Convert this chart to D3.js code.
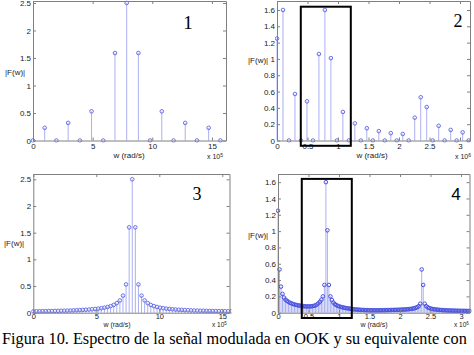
<!DOCTYPE html>
<html><head><meta charset="utf-8">
<script src="https://cdn.jsdelivr.net/npm/d3@7"></script>
<style>
html,body{margin:0;padding:0;background:#fff;}
svg{display:block;}
</style></head><body>
<svg id="c" width="474" height="355"></svg>
<script>
// ---------- DATA ----------
// Panel 1: |F(w)| per harmonic bin (bin spacing in units of 1e5 rad/s)
const p1Step = 0.9817;
const p1Values = [0, 0.23, 0, 0.32, 0, 0.53, 0, 1.59, 2.5, 1.59, 0, 0.53, 0, 0.32, 0, 0.23, 0];
const p1XTicks = [0, 5, 10, 15];
const p1YTicks = [0, 0.5, 1, 1.5, 2, 2.5];

// Panel 2: bins in units of 1e6 rad/s
const p2Step = 0.09817;
const p2Values = [1.25, 1.6, 0, 0.57, 0, 0.48, 0, 1.06, 1.6, 1.01, 0, 0.35, 0, 0.21, 0, 0.15, 0,
  0.115, 0, 0.09, 0, 0.08, 0, 0.28, 0.53, 0.41, 0, 0.18, 0, 0.13, 0, 0.10, 0];
const p2XTicks = [0, 0.5, 1, 1.5, 2, 2.5, 3];
const p2YTicks = [0, 0.2, 0.4, 0.6, 0.8, 1, 1.2, 1.4, 1.6];

// Panel 3: bins in units of 1e5 rad/s
const p3Step = 0.2454;
const p3Values = [0.025, 0.026, 0.027, 0.028, 0.029, 0.030, 0.031, 0.033, 0.034, 0.036, 0.037, 0.039,
  0.041, 0.043, 0.046, 0.048, 0.052, 0.055, 0.059, 0.064, 0.070, 0.076, 0.084, 0.094, 0.107, 0.123,
  0.145, 0.18, 0.23, 0.32, 0.53, 1.6,
  2.5,
  1.6, 0.53, 0.32, 0.23, 0.18, 0.145, 0.123, 0.107, 0.094, 0.084, 0.076, 0.070, 0.064, 0.059, 0.055,
  0.052, 0.048, 0.046, 0.043, 0.041, 0.039, 0.037, 0.036, 0.034, 0.033, 0.031, 0.030, 0.029, 0.028,
  0.027, 0.026, 0.025];
const p3XTicks = [0, 5, 10, 15];
const p3YTicks = [0, 0.5, 1, 1.5, 2, 2.5];

// Panel 4: bins in units of 1e6 rad/s
const p4Step = 0.024544;
const p4Values = [
  1.25, 0.53, 0.32, 0.23, 0.185, 0.16, 0.145, 0.133, 0.122, 0.114,
  0.107, 0.101, 0.096, 0.092, 0.088, 0.085, 0.082, 0.08, 0.078, 0.077,
  0.077, 0.077, 0.078, 0.08, 0.084, 0.09, 0.1, 0.115, 0.135, 0.16,
  0.2, 0.34, 1.6, 1.01, 0.34, 0.2, 0.155, 0.125, 0.105, 0.093,
  0.084, 0.077, 0.071, 0.066, 0.062, 0.058, 0.055, 0.052, 0.049, 0.047,
  0.043, 0.041, 0.039, 0.038, 0.037, 0.035, 0.034, 0.033, 0.032, 0.031,
  0.031, 0.03, 0.03, 0.029, 0.029, 0.029, 0.029, 0.029, 0.03, 0.03,
  0.03, 0.031, 0.031, 0.032, 0.032, 0.033, 0.033, 0.034, 0.034, 0.035,
  0.035, 0.036, 0.037, 0.038, 0.039, 0.04, 0.041, 0.043, 0.045, 0.047,
  0.05, 0.054, 0.06, 0.068, 0.08, 0.11, 0.53, 0.34, 0.11, 0.08,
  0.066, 0.057, 0.051, 0.046, 0.043, 0.04, 0.038, 0.036, 0.034, 0.033,
  0.031, 0.03, 0.029, 0.028, 0.027, 0.027, 0.026, 0.025, 0.025, 0.024,
  0.024, 0.023, 0.023, 0.022, 0.022, 0.022, 0.021, 0.021, 0.021];
const p4XTicks = [0, 0.5, 1, 1.5, 2, 2.5, 3];
const p4YTicks = [0, 0.2, 0.4, 0.6, 0.8, 1, 1.2, 1.4, 1.6];

// Highlight box (w range, |F| range)
const boxW = [0.39, 1.21];
const boxF = [-0.065, 1.64];

const panelNames = ["1", "2", "3", "4"];
const yLabel = "|F(w)|";
const xLabel = "w (rad/s)";
const caption = "Figura 10. Espectro de la señal modulada en OOK y su equivalente con";

// ---------- DRAW ----------
const svg = d3.select('#c');
const stemColor = '#abb0f2';
const markColor = '#6a71e6';
const frameColor = '#808080';
const sans = 'Liberation Sans, Arial, sans-serif';
const serif = 'Liberation Serif, Times New Roman, serif';

function panel(o) {
  const g = svg.append('g');
  const x = d3.scaleLinear().domain([0, o.xmax]).range([o.L, o.R]);
  const y = d3.scaleLinear().domain([0, o.ymax]).range([o.B, o.T]);
  const cid = 'clip' + o.name;
  svg.append('clipPath').attr('id', cid).append('rect')
    .attr('x', o.L - 2).attr('y', o.T - 2).attr('width', o.R - o.L + 4).attr('height', o.B - o.T + 4);
  const data = o.values.map((v, i) => ({ w: i * o.step, f: v }));
  const pg = g.append('g').attr('clip-path', `url(#${cid})`);
  pg.selectAll('line.stem').data(data).join('line').attr('class', 'stem')
    .attr('x1', d => x(d.w)).attr('x2', d => x(d.w))
    .attr('y1', y(0)).attr('y2', d => y(d.f))
    .attr('stroke', stemColor).attr('stroke-width', 1);
  pg.selectAll('circle').data(data).join('circle')
    .attr('cx', d => x(d.w)).attr('cy', d => y(d.f)).attr('r', o.r)
    .attr('fill', 'none').attr('stroke', o.mark || markColor).attr('stroke-width', 1);

  const fmt = d => String(d);
  const style = (sel, fs) => {
    sel.attr('font-size', fs).attr('font-family', sans);
    sel.select('.domain').attr('stroke', frameColor);
    sel.selectAll('.tick line').attr('stroke', frameColor);
    sel.selectAll('.tick text').attr('fill', '#222');
  };
  g.append('g').attr('transform', `translate(0,${o.B})`)
    .call(d3.axisBottom(x).tickValues(o.xticks).tickSize(-3).tickSizeOuter(0).tickPadding(o.xpad).tickFormat(fmt))
    .call(style, o.tfs);
  g.append('g').attr('transform', `translate(0,${o.T})`)
    .call(d3.axisTop(x).tickValues(o.xticks).tickSize(-3).tickSizeOuter(0).tickFormat('')).call(style, 8);
  g.append('g').attr('transform', `translate(${o.L},0)`)
    .call(d3.axisLeft(y).tickValues(o.yticks).tickSize(-3).tickSizeOuter(0).tickPadding(2).tickFormat(fmt)).call(style, 8);
  g.append('g').attr('transform', `translate(${o.R},0)`)
    .call(d3.axisRight(y).tickValues(o.yticks).tickSize(-3).tickSizeOuter(0).tickFormat('')).call(style, 8);

  g.append('text').attr('x', o.yl[0]).attr('y', o.yl[1]).attr('font-family', sans).attr('font-size', 8)
    .attr('fill', '#222').attr('dominant-baseline', 'middle').text(yLabel);
  g.append('text').attr('x', o.xl[0]).attr('y', o.xl[1]).attr('font-family', sans).attr('font-size', o.xfs)
    .attr('fill', '#222').attr('text-anchor', 'middle').text(xLabel);
  const ex = g.append('text').attr('x', o.ex[0]).attr('y', o.ex[1]).attr('font-family', sans)
    .attr('font-size', o.efs).attr('fill', '#222');
  ex.append('tspan').text('x 10');
  ex.append('tspan').attr('font-size', o.efs - 2).attr('dy', -2.5).text(o.exp);

  g.append('text').attr('x', o.num[0]).attr('y', o.num[1]).attr('font-family', o.numFont)
    .attr('font-size', o.numSize).attr('text-anchor', 'middle').attr('fill', '#000').text(o.name);

  if (o.box) {
    g.append('rect').attr('x', x(boxW[0])).attr('y', y(boxF[1]))
      .attr('width', x(boxW[1]) - x(boxW[0])).attr('height', y(boxF[0]) - y(boxF[1]))
      .attr('fill', 'none').attr('stroke', '#000').attr('stroke-width', 2);
  }
}

panel({ name: panelNames[0], L: 33, R: 226, T: 1, B: 140.5, xmax: 16.18, ymax: 2.536,
  values: p1Values, step: p1Step, xticks: p1XTicks, yticks: p1YTicks, r: 1.8, tfs: 8, xpad: 3,
  yl: [5, 73], xl: [129, 158], xfs: 8, ex: [207, 159], efs: 7, exp: '5', num: [188, 29], numFont: serif, numSize: 19 });
panel({ name: panelNames[1], L: 277, R: 470, T: 1, B: 140.5, xmax: 3.164, ymax: 1.71,
  values: p2Values, step: p2Step, xticks: p2XTicks, yticks: p2YTicks, r: 1.8, box: true, tfs: 8, xpad: 3,
  yl: [248, 61], xl: [372, 158], xfs: 8, ex: [455, 159], efs: 7, exp: '6', num: [458, 27], numFont: serif, numSize: 18 });
panel({ name: panelNames[2], L: 33.3, R: 229.5, T: 174, B: 312.7, xmax: 15.57, ymax: 2.6,
  values: p3Values, step: p3Step, xticks: p3XTicks, yticks: p3YTicks, r: 1.8, tfs: 7.5, xpad: 1,
  yl: [4, 244], xl: [117, 327.2], xfs: 7, ex: [212, 327], efs: 6.5, exp: '5', num: [197, 200], numFont: serif, numSize: 18 });
panel({ name: panelNames[3], L: 278, R: 469.5, T: 174, B: 312.7, xmax: 3.14, ymax: 1.70,
  values: p4Values, step: p4Step, xticks: p4XTicks, yticks: p4YTicks, r: 1.8, box: true, mark: '#4a52e0', tfs: 7.5, xpad: 1,
  yl: [248, 235.5], xl: [374, 327.2], xfs: 7, ex: [454, 327], efs: 6.5, exp: '6', num: [456, 200], numFont: sans, numSize: 17 });

// caption
const cap = svg.append('text').attr('x', 2).attr('y', 343).attr('font-family', serif)
  .attr('font-size', 17).attr('fill', '#000').text(caption);
const w = cap.node().getComputedTextLength();
const fs = 17 * 465 / w;
cap.attr('font-size', fs).attr('y', 329.2 + 0.891 * fs);
</script>
</body></html>
